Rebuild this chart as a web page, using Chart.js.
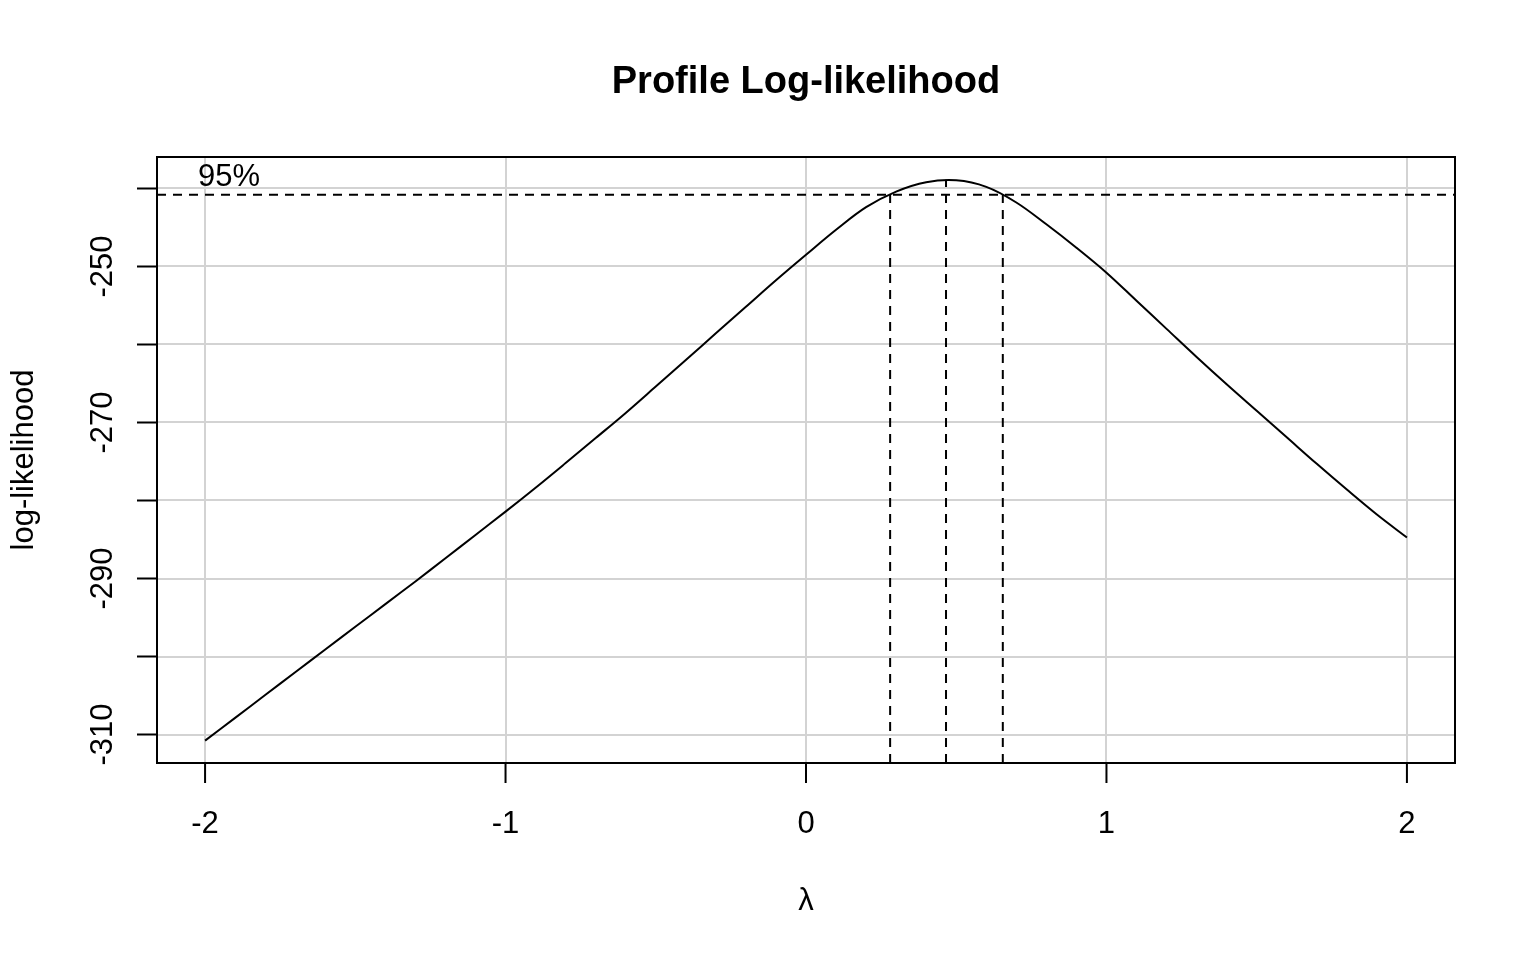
<!DOCTYPE html>
<html lang="en">
<head>
<meta charset="UTF-8">
<title>Profile Log-likelihood</title>
<script src="https://cdn.jsdelivr.net/npm/chart.js"></script>
<style>
  html, body { margin: 0; padding: 0; background: #fff; }
  #wrap { width: 1536px; height: 960px; position: relative; }
</style>
</head>
<body>
<div id="wrap"><canvas id="boxcoxChart"></canvas></div>
<script>
// lambda grid and profile log-likelihood
var lambdaValues = [-2.0, -1.9, -1.8, -1.7, -1.6, -1.5, -1.4, -1.3, -1.2, -1.1,
                    -1.0, -0.9, -0.8, -0.7, -0.6, -0.5, -0.4, -0.3, -0.2, -0.1,
                     0.0,  0.1,  0.2,  0.3,  0.4,  0.5,  0.6,  0.7,  0.8,  0.9,
                     1.0,  1.1,  1.2,  1.3,  1.4,  1.5,  1.6,  1.7,  1.8,  1.9, 2.0];
var logLik = [-310.78, -307.86, -304.94, -302.02, -299.10, -296.19, -293.28, -290.38, -287.40, -284.42,
              -281.43, -278.36, -275.20, -272.00, -268.78, -265.40, -262.00, -258.57, -255.17, -251.77,
              -248.50, -245.30, -242.40, -240.40, -239.20, -238.96, -239.80, -241.80, -244.60, -247.60,
              -250.80, -254.40, -258.00, -261.60, -265.10, -268.50, -271.90, -275.30, -278.60, -281.80, -284.75];

// 95% interval: lower bound, MLE, upper bound
var ciLambda = [0.28, 0.466, 0.655];
var ciLogLik = [-240.82, -238.90, -240.82];
var cutoff = -240.82;
var ciLabel = "95%";

var xTicks = [-2, -1, 0, 1, 2];
var yTicks = [-310, -300, -290, -280, -270, -260, -250, -240];
var yTickLabels = ["-310", "", "-290", "", "-270", "", "-250", ""];

var xLimits = [-2.16, 2.16];
var yLimits = [-313.65, -235.97];

var titleText = "Profile Log-likelihood";
var xTitle = "\u03bb";
var yTitle = "log-likelihood";

var FONT = "'Liberation Sans', Arial, Helvetica, sans-serif";

var curvePoints = lambdaValues.map(function(l, i) { return {x: l, y: logLik[i]}; });

var datasets = [{
  data: curvePoints,
  borderColor: "#000",
  borderWidth: 2,
  pointRadius: 0,
  fill: false,
  tension: 0.35
}, {
  data: [{x: xLimits[0], y: cutoff}, {x: xLimits[1], y: cutoff}],
  borderColor: "#000",
  borderWidth: 2,
  borderDash: [9, 7],
  pointRadius: 0,
  fill: false
}];
for (var i = 0; i < ciLambda.length; i++) {
  datasets.push({
    data: [{x: ciLambda[i], y: yLimits[0]}, {x: ciLambda[i], y: ciLogLik[i]}],
    borderColor: "#000",
    borderWidth: 2,
    borderDash: [9, 7],
    pointRadius: 0,
    fill: false
  });
}

// R style box, ticks, labels and titles
var rFrame = {
  id: "rFrame",
  afterDraw: function(chart) {
    var c = chart.ctx, a = chart.chartArea;
    var xs = chart.scales.x, ys = chart.scales.y;
    c.save();
    c.strokeStyle = "#000";
    c.fillStyle = "#000";
    c.lineWidth = 2;
    c.setLineDash([]);
    c.strokeRect(a.left, a.top, a.right - a.left, a.bottom - a.top);

    // x axis
    c.beginPath();
    c.moveTo(xs.getPixelForValue(xTicks[0]), a.bottom);
    c.lineTo(xs.getPixelForValue(xTicks[xTicks.length - 1]), a.bottom);
    xTicks.forEach(function(t) {
      var px = xs.getPixelForValue(t);
      c.moveTo(px, a.bottom);
      c.lineTo(px, a.bottom + 20);
    });
    // y axis
    c.moveTo(a.left, ys.getPixelForValue(yTicks[0]));
    c.lineTo(a.left, ys.getPixelForValue(yTicks[yTicks.length - 1]));
    yTicks.forEach(function(t) {
      var py = ys.getPixelForValue(t);
      c.moveTo(a.left - 20, py);
      c.lineTo(a.left, py);
    });
    c.stroke();

    c.font = "31px " + FONT;
    c.textAlign = "center";
    c.textBaseline = "alphabetic";
    xTicks.forEach(function(t) {
      c.fillText(String(t), xs.getPixelForValue(t), a.bottom + 70);
    });
    yTicks.forEach(function(t, i) {
      if (!yTickLabels[i]) return;
      c.save();
      c.translate(a.left - 45, ys.getPixelForValue(t));
      c.rotate(-Math.PI / 2);
      c.fillText(yTickLabels[i], 0, 0);
      c.restore();
    });

    // axis titles
    var cx = (a.left + a.right) / 2, cy = (a.top + a.bottom) / 2;
    c.fillText(xTitle, cx, a.bottom + 147);
    c.save();
    c.translate(33, cy);
    c.rotate(-Math.PI / 2);
    c.fillText(yTitle, 0, 0);
    c.restore();

    // 95% label
    c.textAlign = "left";
    c.fillText(ciLabel, xs.getPixelForValue(xTicks[0]) - 7, ys.getPixelForValue(cutoff) - 9);

    // main title
    c.font = "bold 38px " + FONT;
    c.textAlign = "center";
    c.fillText(titleText, cx, 93);
    c.restore();
  }
};

var ctx = document.getElementById("boxcoxChart").getContext("2d");
new Chart(ctx, {
  type: "line",
  data: { datasets: datasets },
  options: {
    responsive: true,
    maintainAspectRatio: false,
    animation: false,
    events: [],
    layout: { padding: { left: 157, top: 157, right: 81, bottom: 197 } },
    plugins: {
      legend: { display: false },
      title: { display: false },
      tooltip: { enabled: false }
    },
    scales: {
      x: {
        type: "linear",
        min: xLimits[0],
        max: xLimits[1],
        afterBuildTicks: function(s) { s.ticks = xTicks.map(function(v) { return {value: v}; }); },
        afterFit: function(s) { s.height = 0; },
        ticks: { display: false },
        border: { display: false },
        grid: { color: "#d3d3d3", lineWidth: 2, drawTicks: false }
      },
      y: {
        type: "linear",
        min: yLimits[0],
        max: yLimits[1],
        afterBuildTicks: function(s) { s.ticks = yTicks.map(function(v) { return {value: v}; }); },
        afterFit: function(s) { s.width = 0; },
        ticks: { display: false },
        border: { display: false },
        grid: { color: "#d3d3d3", lineWidth: 2, drawTicks: false }
      }
    }
  },
  plugins: [rFrame]
});
</script>
</body>
</html>
